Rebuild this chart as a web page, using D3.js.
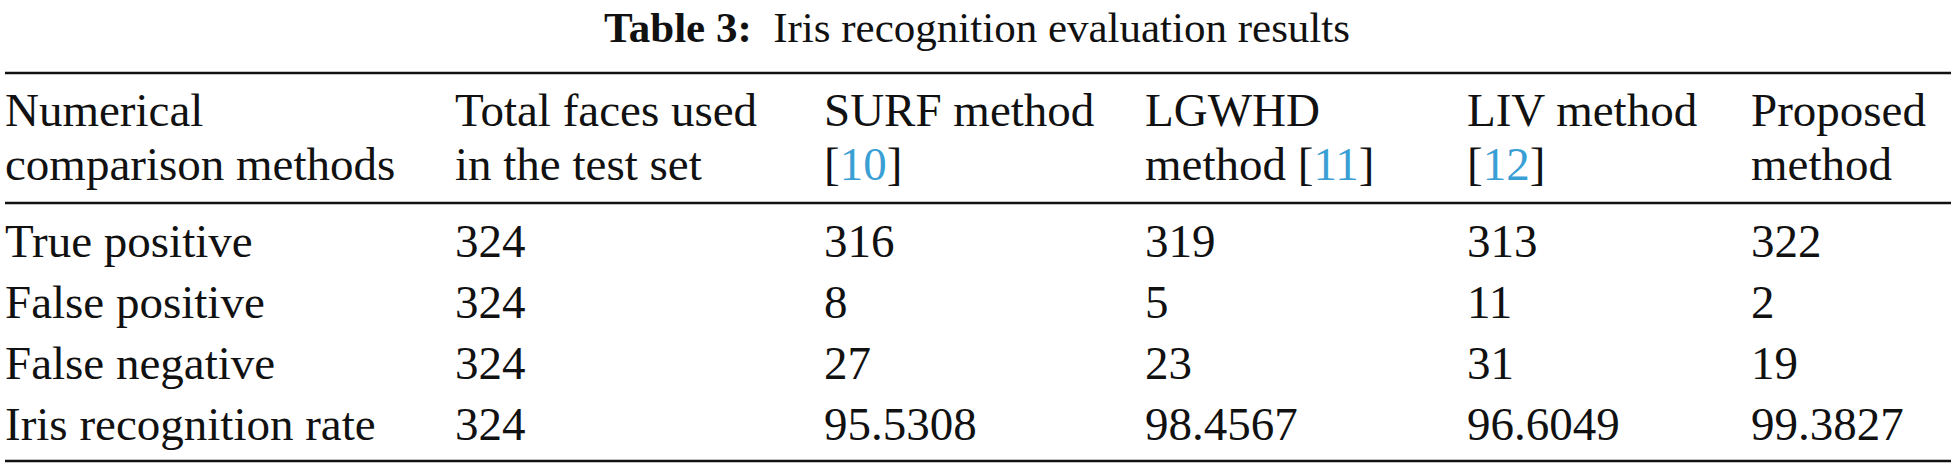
<!DOCTYPE html>
<html>
<head>
<meta charset="utf-8">
<script src="https://cdn.jsdelivr.net/npm/d3@7"></script>
<style>
  body { margin: 0; background: #fff; }
  text { font-family: "Liberation Serif", "Times New Roman", serif; fill: #111; }
  .ref { fill: #3a9fd4; }
</style>
</head>
<body>
<script>
// table content
var titleBold = 'Table 3:';
var titleText = 'Iris recognition evaluation results';
var headerLine1 = ['Numerical', 'Total faces used', 'SURF method', 'LGWHD', 'LIV method', 'Proposed'];
var headerLine2 = [['comparison methods', null], ['in the test set', null], ['', '10'], ['method ', '11'], ['', '12'], ['method', null]];
var rowLabels = ['True positive', 'False positive', 'False negative', 'Iris recognition rate'];
var totalFaces = ['324', '324', '324', '324'];
var surf = ['316', '8', '27', '95.5308'];
var lgwhd = ['319', '5', '23', '98.4567'];
var liv = ['313', '11', '31', '96.6049'];
var proposed = ['322', '2', '19', '99.3827'];

var width = 1954, height = 467;
var colX = [5, 455, 824, 1145, 1467, 1751];
var x = d3.scaleOrdinal().domain(d3.range(6)).range(colX);
var y = d3.scalePoint().domain(d3.range(rowLabels.length)).range([257, 440]);

var svg = d3.select('body').append('svg')
    .attr('width', width)
    .attr('height', height);

var title = svg.append('text')
    .attr('x', width / 2)
    .attr('y', 42)
    .attr('text-anchor', 'middle')
    .style('font-size', '43px');
title.append('tspan').attr('font-weight', 'bold').text(titleBold);
title.append('tspan').text('\u2002' + titleText);

[73, 203, 461].forEach(function (yy) {
  svg.append('line')
    .attr('x1', 5).attr('x2', 1951)
    .attr('y1', yy).attr('y2', yy)
    .attr('stroke', '#111')
    .attr('stroke-width', 2.5);
});

var fs = '47px';

svg.selectAll('.h1').data(headerLine1).enter().append('text')
    .attr('x', function (d, i) { return x(i); })
    .attr('y', 126)
    .style('font-size', fs)
    .text(function (d) { return d; });

svg.selectAll('.h2').data(headerLine2).enter().append('text')
    .attr('x', function (d, i) { return x(i); })
    .attr('y', 180)
    .style('font-size', fs)
    .each(function (d) {
      var t = d3.select(this);
      t.append('tspan').text(d[0]);
      if (d[1]) {
        t.append('tspan').text('[');
        t.append('tspan').attr('class', 'ref').text(d[1]);
        t.append('tspan').text(']');
      }
    });

var rows = rowLabels.map(function (l, i) {
  return [l, totalFaces[i], surf[i], lgwhd[i], liv[i], proposed[i]];
});

var g = svg.selectAll('.row').data(rows).enter().append('g')
    .attr('transform', function (d, i) { return 'translate(0,' + y(i) + ')'; });

g.selectAll('text').data(function (d) { return d; }).enter().append('text')
    .attr('x', function (d, i) { return x(i); })
    .style('font-size', fs)
    .text(function (d) { return d; });
</script>
</body>
</html>
